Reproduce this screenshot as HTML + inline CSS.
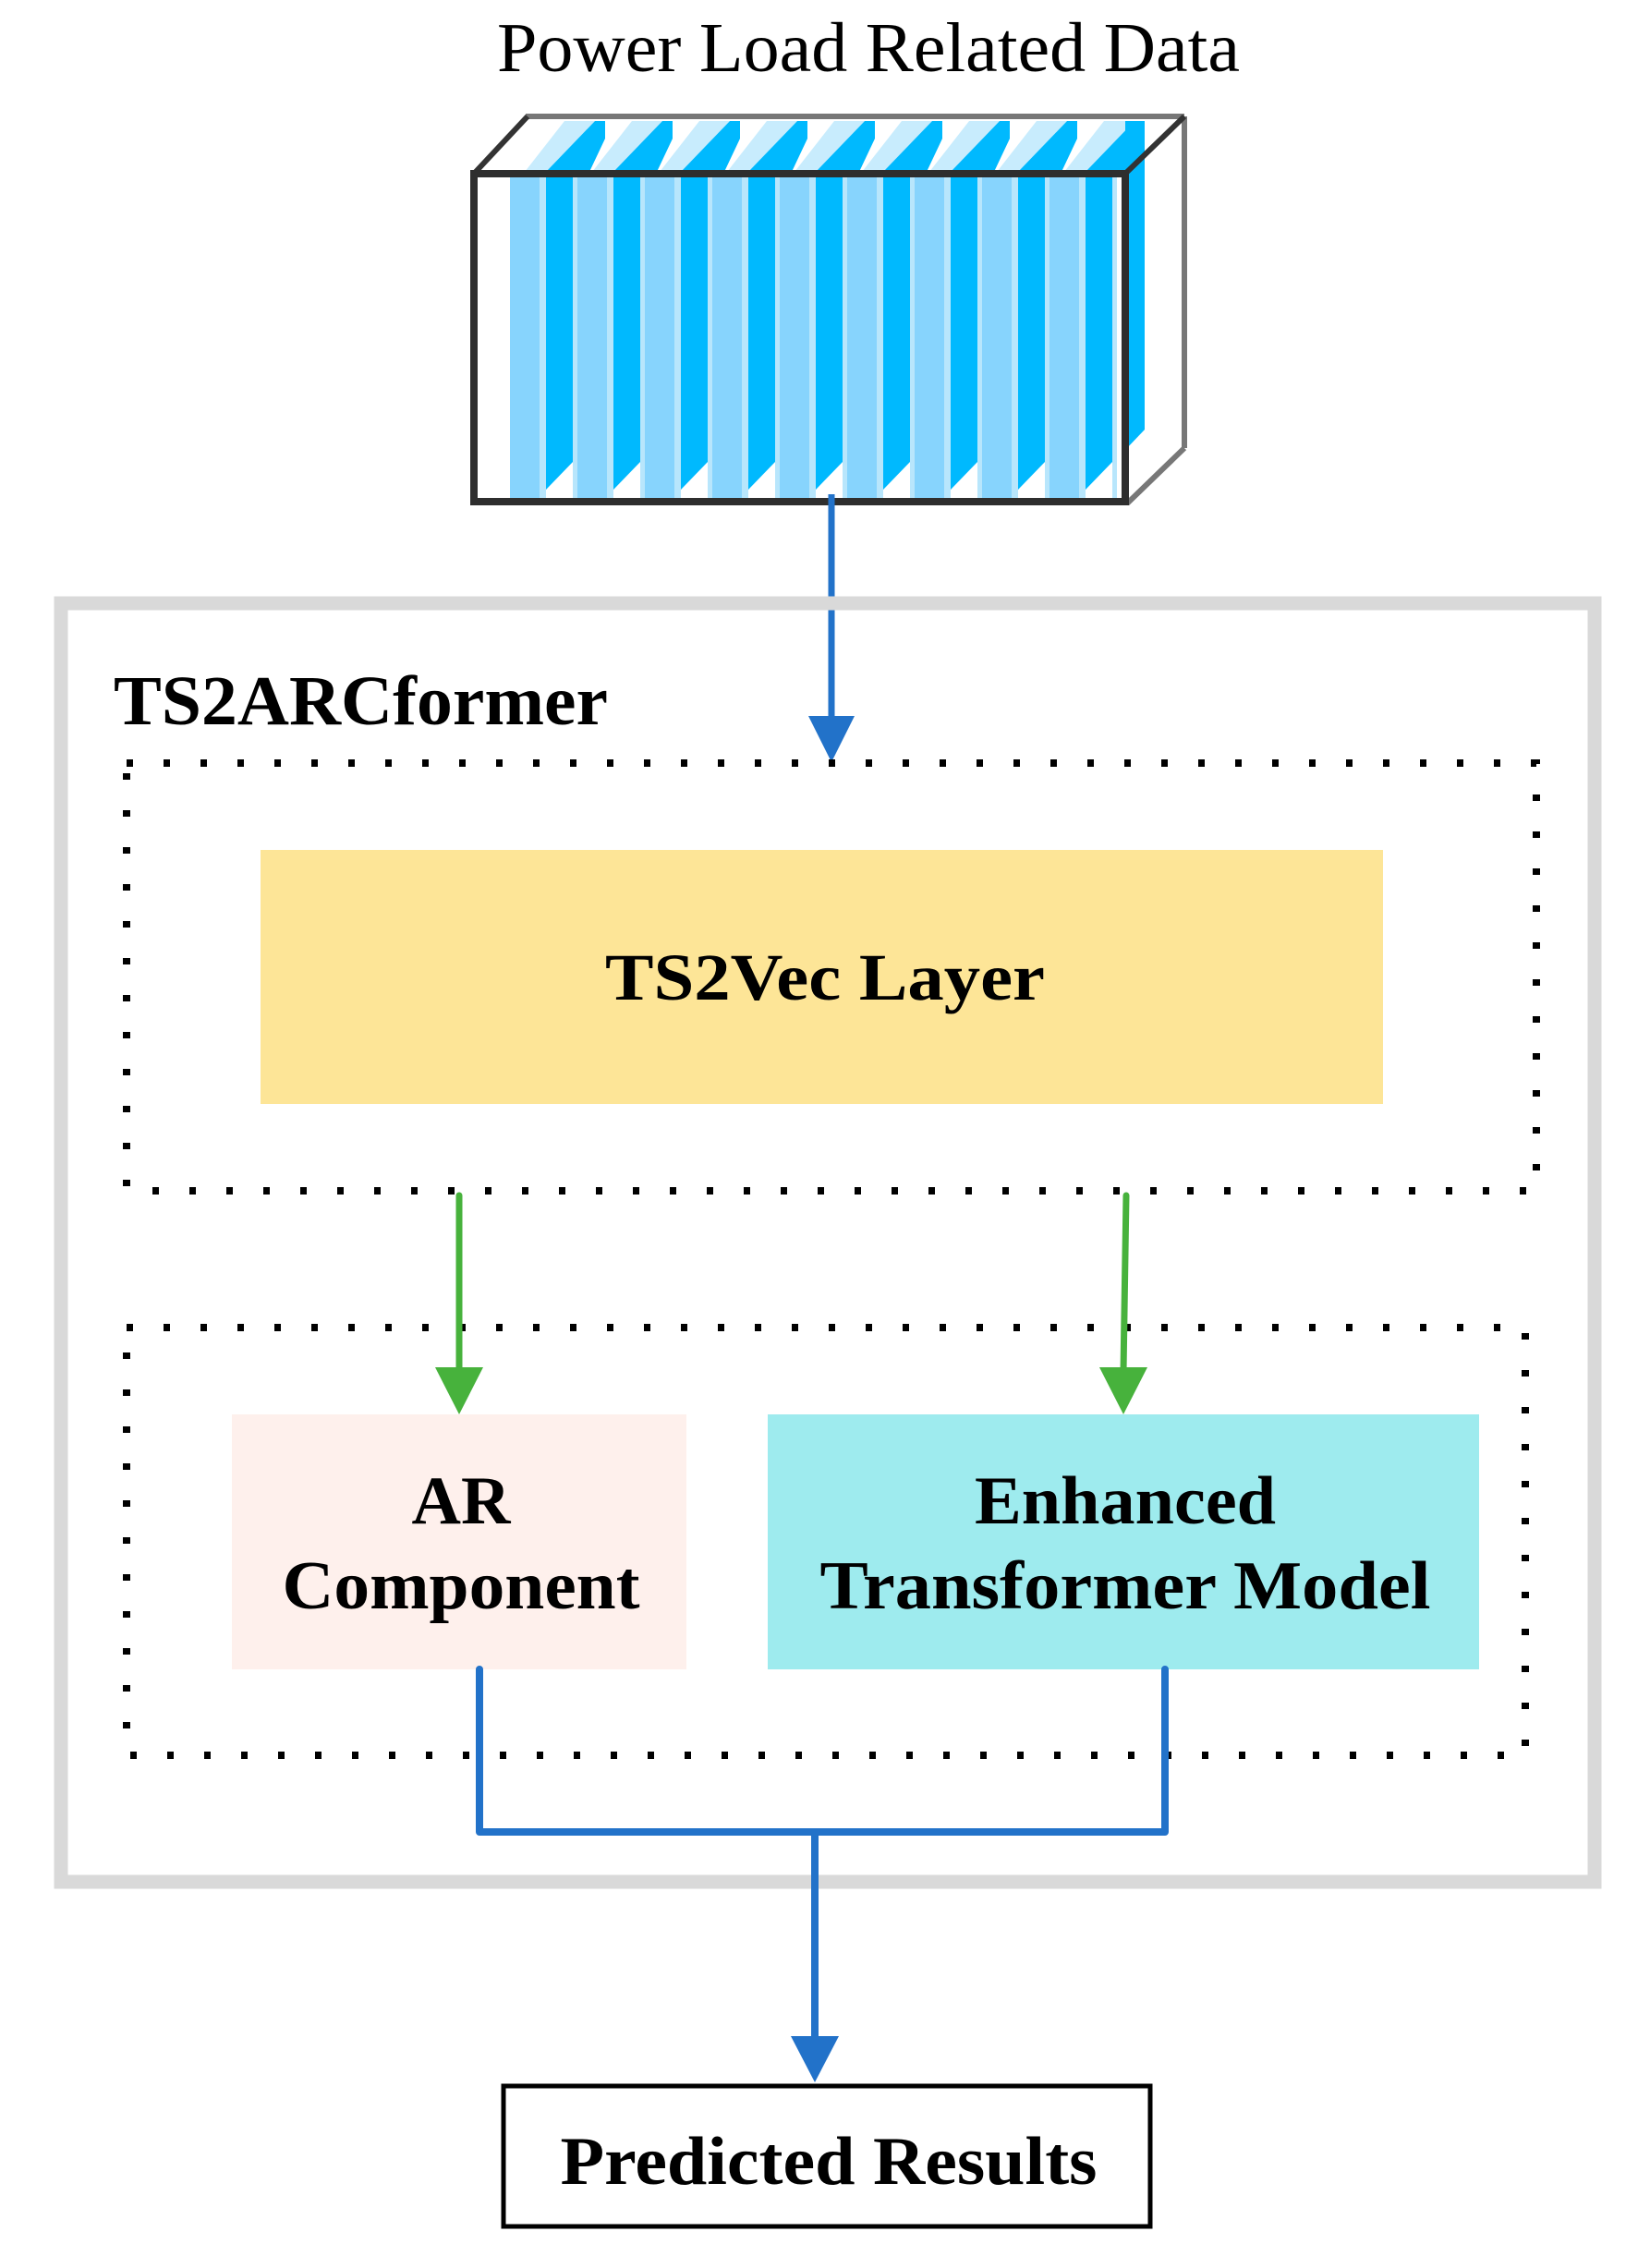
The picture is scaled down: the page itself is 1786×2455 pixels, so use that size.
<!DOCTYPE html>
<html><head><meta charset="utf-8"><style>
html,body{margin:0;padding:0;background:#fff}
svg{display:block}
</style></head><body>
<svg width="1786" height="2455" viewBox="0 0 1786 2455" xmlns="http://www.w3.org/2000/svg">
<defs>
<g id="pair">
  <polygon points="16,186 39,186 92,131 59,131" fill="#c8ecfd"/>
  <polygon points="39,186 86,186 103,150 103,131 92,131" fill="#00b9fe"/>
  <rect x="0" y="188" width="32" height="355" fill="#87d4fd"/>
  <rect x="32" y="188" width="7" height="355" fill="#b8e6fc"/>
  <polygon points="39,188 68,188 68,500 39,530" fill="#00b9fe"/>
  <rect x="68" y="188" width="5" height="355" fill="#b8e6fc"/>
</g>
</defs>

<text x="940" y="77" font-family="Liberation Serif, serif" font-size="76" text-anchor="middle" textLength="804" lengthAdjust="spacingAndGlyphs">Power Load Related Data</text>

<use href="#pair" x="552"/>
<use href="#pair" x="625"/>
<use href="#pair" x="698"/>
<use href="#pair" x="771"/>
<use href="#pair" x="844"/>
<use href="#pair" x="917"/>
<use href="#pair" x="990"/>
<use href="#pair" x="1063"/>
<use href="#pair" x="1136"/>
<rect x="1218" y="188" width="30" height="360" fill="#fff"/>
<polygon points="1218,131 1239,131 1239,465 1218,487" fill="#00b9fe"/>
<g stroke="#777" stroke-width="6" fill="none">
  <line x1="569" y1="126" x2="1282" y2="126"/>
  <line x1="1282" y1="126" x2="1282" y2="485"/>
  <line x1="1282" y1="485" x2="1220" y2="545"/>
</g>
<g stroke="#333" stroke-width="6" fill="none">
  <line x1="513" y1="188" x2="571" y2="126"/>
  <line x1="1218" y1="188" x2="1282" y2="126"/>
</g>
<rect x="513" y="188" width="705" height="355" fill="none" stroke="#2e2e2e" stroke-width="8"/>

<line x1="900" y1="535" x2="900" y2="780" stroke="#2272c9" stroke-width="7"/>
<polygon points="875,775 925,775 900,825" fill="#2272c9"/>

<rect x="66" y="653" width="1660" height="1384" fill="none" stroke="#d9d9d9" stroke-width="15"/>
<text x="123" y="784" font-family="Liberation Serif, serif" font-weight="bold" font-size="76" textLength="535" lengthAdjust="spacingAndGlyphs">TS2ARCformer</text>

<g stroke="#000" stroke-width="8" stroke-dasharray="7 33" fill="none">
  <path d="M137,826 H1663 V1289 H137 Z"/>
  <path d="M137,1437 H1651 V1900 H137 Z"/>
</g>

<rect x="282" y="920" width="1215" height="275" fill="#fde597"/>
<text x="893" y="1082" font-family="Liberation Serif, serif" font-weight="bold" font-size="72" text-anchor="middle" textLength="476" lengthAdjust="spacingAndGlyphs">TS2Vec Layer</text>

<line x1="497" y1="1294" x2="497" y2="1485" stroke="#47b23c" stroke-width="7" stroke-linecap="round"/>
<polygon points="471,1480 523,1480 497,1531" fill="#47b23c"/>
<line x1="1219" y1="1294" x2="1216" y2="1485" stroke="#47b23c" stroke-width="7" stroke-linecap="round"/>
<polygon points="1190,1480 1242,1480 1216,1531" fill="#47b23c"/>

<rect x="251" y="1531" width="492" height="276" fill="#fef0ec"/>
<rect x="831" y="1531" width="770" height="276" fill="#9eebee"/>
<g font-family="Liberation Serif, serif" font-weight="bold" font-size="74" text-anchor="middle">
  <text x="499" y="1649">AR</text>
  <text x="499" y="1741" textLength="387" lengthAdjust="spacingAndGlyphs">Component</text>
  <text x="1218" y="1649" textLength="326" lengthAdjust="spacingAndGlyphs">Enhanced</text>
  <text x="1218" y="1741" textLength="661" lengthAdjust="spacingAndGlyphs">Transformer Model</text>
</g>

<path d="M519,1807 V1983 H1261 V1807" fill="none" stroke="#2272c9" stroke-width="8" stroke-linejoin="round" stroke-linecap="round"/>
<line x1="882" y1="1983" x2="882" y2="2210" stroke="#2272c9" stroke-width="8"/>
<polygon points="856,2204 908,2204 882,2254" fill="#2272c9"/>

<rect x="545" y="2258" width="700" height="152" fill="none" stroke="#000" stroke-width="5"/>
<text x="897" y="2364" font-family="Liberation Serif, serif" font-weight="bold" font-size="74" text-anchor="middle" textLength="581" lengthAdjust="spacingAndGlyphs">Predicted Results</text>
</svg>
</body></html>
